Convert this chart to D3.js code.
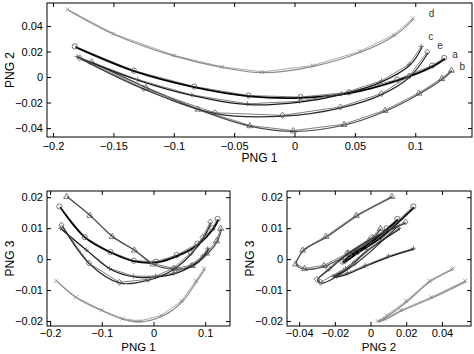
<!DOCTYPE html>
<html lang="en">
<head>
<meta charset="UTF-8">
<script src="https://cdnjs.cloudflare.com/ajax/libs/d3/7.8.5/d3.min.js"></script>
<style>
  body { margin: 0; background: #fff; }
  text { font-family: "Liberation Sans", Arial, sans-serif; }
</style>
</head>
<body>
<svg id="chart" width="474" height="354"></svg>
<script>
// series names and markers
const names = ['a', 'b', 'c', 'd', 'e'];
const markers = ['circle', 'triangle', 'plus', 'cross', 'diamond'];

// PNG 1, PNG 2, PNG 3 coordinates along each trajectory
const png1 = {
  a: [-0.182, -0.133, -0.083, -0.038, 0.005, 0.045, 0.085, 0.114, 0.124],
  b: [-0.168, -0.123, -0.080, -0.037, -0.001, 0.041, 0.075, 0.103, 0.122, 0.130],
  c: [-0.180, -0.130, -0.085, -0.039, 0.004, 0.039, 0.072, 0.095, 0.105],
  d: [-0.188, -0.150, -0.100, -0.060, -0.027, 0.015, 0.054, 0.082, 0.098],
  e: [-0.178, -0.125, -0.066, -0.010, 0.038, 0.072, 0.095, 0.110]
};
const png2 = {
  a: [0.024, 0.005, -0.0075, -0.0145, -0.0157, -0.012, -0.002, 0.009, 0.015],
  b: [0.012, -0.008, -0.025, -0.038, -0.042, -0.037, -0.026, -0.0125, -0.001, 0.0055],
  c: [0.016, -0.002, -0.014, -0.021, -0.019, -0.013, -0.003, 0.010, 0.024],
  d: [0.053, 0.034, 0.017, 0.008, 0.004, 0.009, 0.020, 0.033, 0.046],
  e: [0.015, -0.009, -0.028, -0.030, -0.0235, -0.013, 0.0008, 0.0196]
};
const png3 = {
  a: [0.017, 0.0071, 0.0023, -0.0005, -0.0008, 0.0013, 0.005, 0.010, 0.013],
  b: [0.0203, 0.0142, 0.0074, 0.0030, -0.0015, -0.003, -0.002, 0.002, 0.006, 0.010],
  c: [0.010, 0.003, -0.003, -0.0055, -0.0055, -0.0045, -0.002, 0.001, 0.0035],
  d: [-0.007, -0.0123, -0.0165, -0.0192, -0.0200, -0.0182, -0.0135, -0.007, -0.003],
  e: [0.011, -0.0013, -0.0075, -0.0065, -0.003, 0.002, 0.007, 0.012]
};

const ticks1 = [-0.2, -0.15, -0.1, -0.05, 0, 0.05, 0.1];
const ticks2 = [-0.04, -0.02, 0, 0.02, 0.04];
const ticks1b = [-0.2, -0.1, 0, 0.1];
const ticks3 = [-0.02, -0.01, 0, 0.01, 0.02];

const colors = { a: '#000', b: '#4a4a4a', c: '#1a1a1a', d: '#8a8a8a', e: '#2a2a2a' };
const svg = d3.select('#chart');

const fmt = v => String(+v.toFixed(3)).replace('-', '\u2212');

function panel(opt) {
  const x = d3.scaleLinear().domain(opt.xd).range([opt.x0, opt.x1]);
  const y = d3.scaleLinear().domain(opt.yd).range([opt.y1, opt.y0]);
  const g = svg.append('g');

  const ax = (gen, tr) => g.append('g').attr('transform', tr).call(gen)
    .call(s => s.select('.domain').remove())
    .call(s => s.selectAll('text').attr('font-size', 11).attr('fill', '#000'))
    .call(s => s.selectAll('line').attr('stroke', '#000'));

  ax(d3.axisBottom(x).tickValues(opt.xt).tickSize(-4).tickPadding(opt.tp).tickFormat(fmt), `translate(0,${opt.y1})`);
  ax(d3.axisTop(x).tickValues(opt.xt).tickSize(-4).tickFormat(''), `translate(0,${opt.y0})`);
  ax(d3.axisLeft(y).tickValues(opt.yt).tickSize(-4).tickPadding(4).tickFormat(fmt), `translate(${opt.x0},0)`);
  ax(d3.axisRight(y).tickValues(opt.yt).tickSize(-4).tickFormat(''), `translate(${opt.x1},0)`);

  g.append('rect').attr('x', opt.x0).attr('y', opt.y0)
    .attr('width', opt.x1 - opt.x0).attr('height', opt.y1 - opt.y0)
    .attr('fill', 'none').attr('stroke', '#000').attr('stroke-width', 1);

  const clipId = 'clip' + opt.id;
  g.append('clipPath').attr('id', clipId).append('rect')
    .attr('x', opt.x0).attr('y', opt.y0).attr('width', opt.x1 - opt.x0).attr('height', opt.y1 - opt.y0);
  const plot = g.append('g').attr('clip-path', `url(#${clipId})`);

  names.forEach((n, i) => {
    const pts = opt.xs[n].map((v, k) => [x(v), y(opt.ys[n][k])]);
    const smooth = d3.line().curve(d3.curveCatmullRom.alpha(0.5));
    const poly = d3.line();
    plot.append('path').attr('d', poly(pts)).attr('fill', 'none')
      .attr('stroke', n === 'd' ? '#a0a0a0' : '#707070').attr('stroke-width', 0.9);
    plot.append('path').attr('d', smooth(pts)).attr('fill', 'none')
      .attr('stroke', colors[n]).attr('stroke-width', n === 'a' ? 1.8 : 1.2)
      .attr('transform', 'translate(0.8,0.8)');
    const mk = plot.append('g').attr('fill', 'none').attr('stroke', n === 'd' ? '#8a8a8a' : '#555')
      .attr('stroke-width', 0.8);
    pts.forEach(p => {
      const m = markers[i];
      if (m === 'circle') mk.append('circle').attr('cx', p[0]).attr('cy', p[1]).attr('r', 2.6);
      else if (m === 'triangle') mk.append('path').attr('d', `M${p[0]},${p[1] - 3}L${p[0] + 3},${p[1] + 2.2}L${p[0] - 3},${p[1] + 2.2}Z`);
      else if (m === 'diamond') mk.append('path').attr('d', `M${p[0]},${p[1] - 3}L${p[0] + 2.6},${p[1]}L${p[0]},${p[1] + 3}L${p[0] - 2.6},${p[1]}Z`);
      else if (m === 'plus') mk.append('path').attr('d', `M${p[0] - 2.5},${p[1]}H${p[0] + 2.5}M${p[0]},${p[1] - 2.5}V${p[1] + 2.5}`);
      else mk.append('path').attr('d', `M${p[0] - 2},${p[1] - 2}L${p[0] + 2},${p[1] + 2}M${p[0] - 2},${p[1] + 2}L${p[0] + 2},${p[1] - 2}`);
    });
  });

  g.append('text').attr('x', (opt.x0 + opt.x1) / 2).attr('y', opt.y1 + opt.xlOff)
    .attr('text-anchor', 'middle').attr('font-size', opt.xlSize).text(opt.xl);
  g.append('text').attr('transform', `translate(${opt.x0 - 33},${(opt.y0 + opt.y1) / 2}) rotate(-90)`)
    .attr('text-anchor', 'middle').attr('font-size', 12).text(opt.yl);

  return { x, y, g };
}

const topPanel = panel({ id: 1, x0: 47, x1: 472, y0: 3, y1: 137, xd: [-0.205, 0.147], yd: [-0.047, 0.058],
  xt: ticks1, yt: ticks2, xs: png1, ys: png2, xl: 'PNG 1', yl: 'PNG 2', xlOff: 25, xlSize: 12, tp: 5 });
panel({ id: 2, x0: 47, x1: 230, y0: 191, y1: 326, xd: [-0.206, 0.148], yd: [-0.0216, 0.022],
  xt: ticks1b, yt: ticks3, xs: png1, ys: png3, xl: 'PNG 1', yl: 'PNG 3', xlOff: 25, xlSize: 11.5, tp: 3 });
panel({ id: 3, x0: 287, x1: 471, y0: 191, y1: 326, xd: [-0.0468, 0.0563], yd: [-0.0216, 0.022],
  xt: ticks2, yt: ticks3, xs: png2, ys: png3, xl: 'PNG 2', yl: 'PNG 3', xlOff: 25, xlSize: 11.5, tp: 3 });

// series letters next to the trajectory ends in the top panel
const labelOffset = { a: [8, 0], b: [8, 0], c: [7, -6], d: [16, -1], e: [10, -3] };
names.forEach(n => {
  const k = png1[n].length - 1;
  topPanel.g.append('text')
    .attr('x', topPanel.x(png1[n][k]) + labelOffset[n][0])
    .attr('y', topPanel.y(png2[n][k]) + labelOffset[n][1])
    .attr('font-size', 10).attr('fill', '#333').text(n);
});
</script>
</body>
</html>
